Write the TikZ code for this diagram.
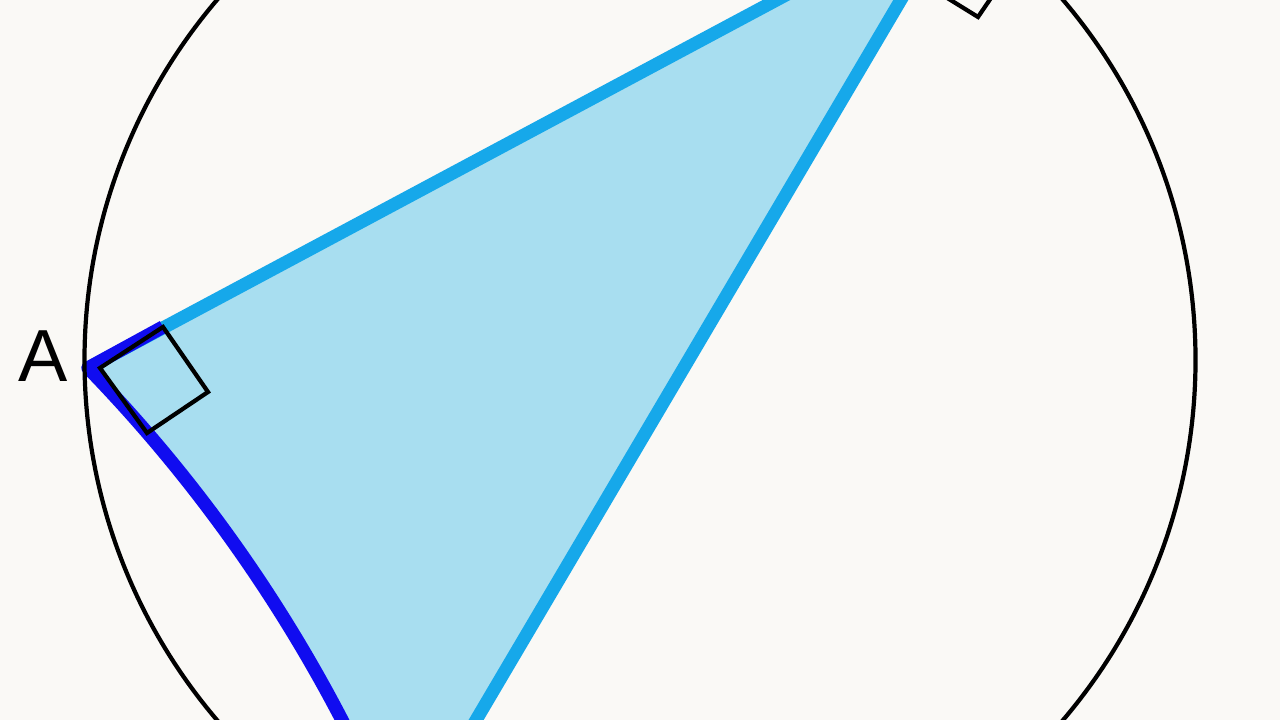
\documentclass[tikz,border=0pt]{standalone}
\usepackage{fontspec}
\setmainfont{Liberation Sans}
\definecolor{paper}{RGB}{250,249,246}
\definecolor{skyline}{RGB}{22,168,234}
\definecolor{skyfill}{RGB}{168,222,240}
\definecolor{deepblue}{RGB}{16,12,240}
\tikzset{
	rim/.style={
		draw=black,
		line width=1.2pt},
	side1/.style={
		draw=skyline,
		line width=3.7pt},
	side2/.style={
		draw=deepblue,
		line width=3.8pt,
		line join=round},
	corner1/.style={
		draw=black,
		line width=1.2pt},
	label1/.style={
		inner sep=0pt,
		font=\fontsize{21}{21}\selectfont,
		text=black}
}

\begin{document}
\begin{tikzpicture}
[x=1cm, y=1cm]
\useasboundingbox (0,0) rectangle (12.8,7.2);
\fill[paper] (0,0) rectangle (12.8,7.2);
\clip (0,0) rectangle (12.8,7.2);
\coordinate (center) at (6.40,3.60);
\coordinate (A) at (0.88,3.52);
\coordinate (B) at (9.58,8.17);
\coordinate (C) at (4.00,-1.29);
\coordinate (markA) at (1.63,3.93);
\fill[skyfill] (A) -- (B) -- (C) arc[start angle=22.1, end angle=44.13, radius=15] -- cycle;
\draw[side1] (A) -- (B) -- (C);
\draw[side2] (markA) -- (A) arc[start angle=44.13, end angle=22.1, radius=15];
\draw[corner1] (1.00,3.52) -- (markA) -- (2.08,3.28) -- (1.47,2.87) -- cycle;
\draw[corner1] (9.10,7.45) -- (9.78,7.03) -- (10.23,7.69);
\draw[rim] (center) circle (5.555);
\node[label1] (labelA) at (0.43,3.635) {A};
\end{tikzpicture}
\end{document}
